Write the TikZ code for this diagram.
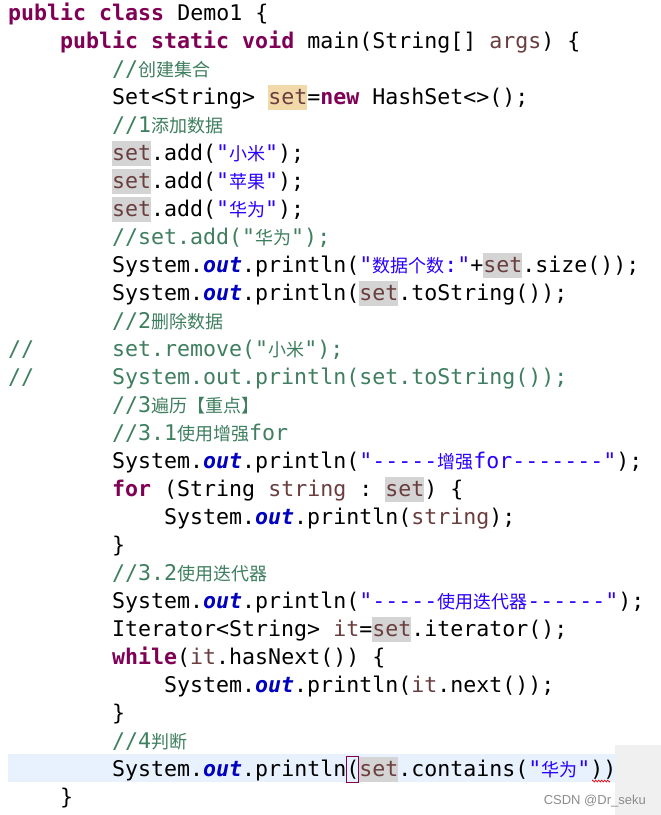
\documentclass[tikz,border=0pt]{standalone}
\usepackage{fontspec}
\usetikzlibrary{decorations.pathmorphing}
\setmonofont{DejaVu Sans Mono}
\setsansfont{Liberation Sans}
\newfontfamily\zhf{Noto Sans CJK SC}
\definecolor{kwc}{HTML}{7F0055}
\definecolor{cmc}{HTML}{3F7F5F}
\definecolor{stc}{HTML}{2A00FF}
\definecolor{outc}{HTML}{0000C0}
\definecolor{varc}{HTML}{6A3E3E}
\definecolor{hlg}{HTML}{D4D4D4}
\definecolor{hlo}{HTML}{F2D9A9}
\definecolor{curl}{HTML}{E8F2FE}
\newcommand\kw[1]{\textcolor{kwc}{\bfseries #1}}
\newcommand\cm[1]{\textcolor{cmc}{#1}}
\newcommand\st[1]{\textcolor{stc}{#1}}
\newcommand\fo{\textcolor{outc}{\bfseries\itshape out}}
\newcommand\zh[1]{{\zhf\fontsize{18}{18}\selectfont #1}}
\setlength\fboxsep{0pt}
\newcommand\hs[1]{\colorbox{hlg}{\rule[-6pt]{0pt}{25pt}\textcolor{varc}{#1}}}
\newcommand\ho[1]{\colorbox{hlo}{\rule[-6pt]{0pt}{25pt}\textcolor{varc}{#1}}}
\newcommand\cf{\ttfamily\fontsize{21.6}{28}\selectfont}
\begin{document}
\begin{tikzpicture}[x=1pt,y=1pt,
  ln/.style={anchor=base west,inner sep=0pt,font=\cf}]
\useasboundingbox (0,0) rectangle (661,-815);
\fill[white] (0,0) rectangle (661,-815);
\fill[curl] (8,-754) rectangle (615,-782);
\fill[black!6] (615,-745) rectangle (661,-815);
\coordinate (sq1) at (592,-781);
\coordinate (sq2) at (610,-781);
\draw[red,line width=0.6pt,decorate,decoration={zigzag,amplitude=1pt,segment length=3pt}] (sq1) -- (sq2);
\node[ln] (l0) at (8,-20) {\kw{public class} Demo1 \{};
\node[ln] (l1) at (60,-48) {\kw{public static void} main(String[] \textcolor{varc}{args}) \{};
\node[ln] (l2) at (112,-76) {\cm{//\zh{创建集合}}};
\node[ln] (l3) at (112,-104) {Set<String> \ho{set}=\kw{new} HashSet<>();};
\node[ln] (l4) at (112,-132) {\cm{//1\zh{添加数据}}};
\node[ln] (l5) at (112,-160) {\hs{set}.add(\st{"\zh{小米}"});};
\node[ln] (l6) at (112,-188) {\hs{set}.add(\st{"\zh{苹果}"});};
\node[ln] (l7) at (112,-216) {\hs{set}.add(\st{"\zh{华为}"});};
\node[ln] (l8) at (112,-244) {\cm{//set.add("\zh{华为}");}};
\node[ln] (l9) at (112,-272) {System.\fo.println(\st{"\zh{数据个数}:"}+\hs{set}.size());};
\node[ln] (l10) at (112,-300) {System.\fo.println(\hs{set}.toString());};
\node[ln] (l11) at (112,-328) {\cm{//2\zh{删除数据}}};
\node[ln] (l12a) at (8,-356) {\cm{//}};
\node[ln] (l12) at (112,-356) {\cm{set.remove("\zh{小米}");}};
\node[ln] (l13a) at (8,-384) {\cm{//}};
\node[ln] (l13) at (112,-384) {\cm{System.out.println(set.toString());}};
\node[ln] (l14) at (112,-412) {\cm{//3\zh{遍历【重点】}}};
\node[ln] (l15) at (112,-440) {\cm{//3.1\zh{使用增强}for}};
\node[ln] (l16) at (112,-468) {System.\fo.println(\st{"-----\zh{增强}for-------"});};
\node[ln] (l17) at (112,-496) {\kw{for} (String \textcolor{varc}{string} : \hs{set}) \{};
\node[ln] (l18) at (164,-524) {System.\fo.println(\textcolor{varc}{string});};
\node[ln] (l19) at (112,-552) {\}};
\node[ln] (l20) at (112,-580) {\cm{//3.2\zh{使用迭代器}}};
\node[ln] (l21) at (112,-608) {System.\fo.println(\st{"-----\zh{使用迭代器}------"});};
\node[ln] (l22) at (112,-636) {Iterator<String> \textcolor{varc}{it}=\hs{set}.iterator();};
\node[ln] (l23) at (112,-664) {\kw{while}(\textcolor{varc}{it}.hasNext()) \{};
\node[ln] (l24) at (164,-692) {System.\fo.println(\textcolor{varc}{it}.next());};
\node[ln] (l25) at (112,-720) {\}};
\node[ln] (l26) at (112,-748) {\cm{//4\zh{判断}}};
\node[ln] (l27) at (112,-776) {System.\fo.println(\hs{set}.contains(\st{"\zh{华为}"}))};
\node[ln] (l28) at (60,-804) {\}};
\draw[kwc,line width=0.8pt] (346.5,-756) rectangle (358.5,-782);
\node[anchor=base east,inner sep=0pt,font=\sffamily\fontsize{13}{13}\selectfont,text=black!45] (wm) at (646,-804) {CSDN @Dr\_seku};
\end{tikzpicture}
\end{document}
